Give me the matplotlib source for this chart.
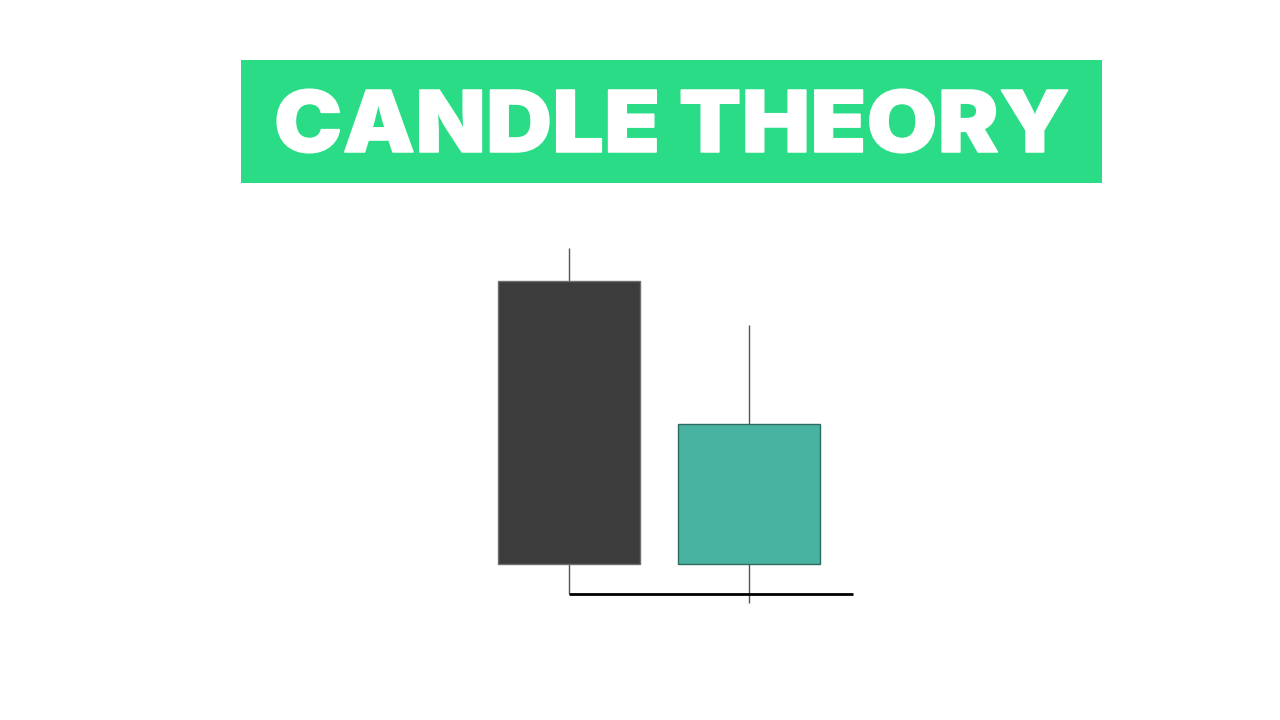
import matplotlib.pyplot as plt
from matplotlib.patches import Rectangle, PathPatch
from matplotlib.textpath import TextPath
from matplotlib.font_manager import FontProperties
from matplotlib.transforms import Affine2D

# candle data (price units)
candles = ['bear', 'bull']
opens = [319, 36]
closes = [36, 176]
highs = [352, 275]
lows = [6, -3]
support_level = 6
support_end = 1.58

title = 'CANDLE THEORY'

body_colors = ['#3c3c3c', '#48b3a0']
edge_colors = ['#6e6e6e', '#2f6b60']

fig = plt.figure(figsize=(12.8, 7.2), dpi=100)
ax = fig.add_axes([0, 0, 1, 1])
ax.set_xlim(-3.161, 3.95)
ax.set_ylim(-120, 600)
ax.axis('off')

width = 0.794
for i in range(len(candles)):
    ax.vlines(i, lows[i], highs[i], color='#555555', linewidth=1, zorder=1)
    bottom = min(opens[i], closes[i])
    height = abs(closes[i] - opens[i])
    ax.add_patch(Rectangle((i - width / 2, bottom), width, height,
                           facecolor=body_colors[i], edgecolor=edge_colors[i],
                           linewidth=1, zorder=2))

ax.hlines(support_level, 0, support_end, color='black', linewidth=2, zorder=3)

# title banner
fig.patches.append(Rectangle((241 / 1280, 537 / 720), 861 / 1280, 123 / 720,
                             transform=fig.transFigure, facecolor='#2bdc87',
                             edgecolor='none', zorder=0))

# heavy wide lettering: text path stretched to fill the box
tp = TextPath((0, 0), title, size=100,
              prop=FontProperties(family='Inter', weight='black'))
ext = tp.get_extents()
x0, x1 = 277 / 1280, 1068 / 1280
y0, y1 = (720 - 153) / 720, (720 - 89) / 720
tr = (Affine2D().translate(-ext.x0, -ext.y0)
      .scale((x1 - x0) / ext.width, (y1 - y0) / ext.height)
      .translate(x0, y0))
fig.patches.append(PathPatch(tp, transform=tr + fig.transFigure,
                             facecolor='white', edgecolor='white',
                             linewidth=0.8, zorder=1))

fig.savefig('out.png', dpi=100, facecolor='white')
